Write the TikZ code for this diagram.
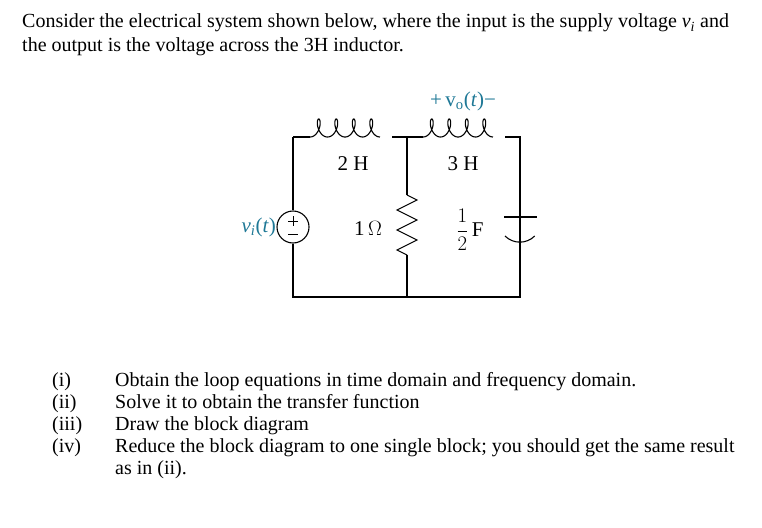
\documentclass[tikz,border=0pt]{standalone}
\usepackage{fontspec}
\setmainfont{Liberation Serif}
\begin{document}
\begin{tikzpicture}[x=1pt,y=-1pt,
  txt/.style={anchor=base west,inner sep=0pt,font=\fontsize{20}{24}\selectfont},
  lbl/.style={inner sep=0pt,font=\fontsize{21}{24}\selectfont},
  blu/.style={text={rgb,255:red,30;green,120;blue,150}},
  w/.style={line width=1.1pt}]
\useasboundingbox (0,0) rectangle (762,527);
\node[txt] (l1) at (22,28) {Consider the electrical system shown below, where the input is the supply voltage \textit{v\textsubscript{i}} and};
\node[txt] (l2) at (22,52) {the output is the voltage across the 3H inductor.};
% list
\node[txt] (n1) at (52,386) {(i)};
\node[txt] (n2) at (52,408) {(ii)};
\node[txt] (n3) at (52,430) {(iii)};
\node[txt] (n4) at (52,452) {(iv)};
\node[txt] (t1) at (115,386) {Obtain the loop equations in time domain and frequency domain.};
\node[txt] (t2) at (115,408) {Solve it to obtain the transfer function};
\node[txt] (t3) at (115,430) {Draw the block diagram};
\node[txt] (t4) at (115,452) {Reduce the block diagram to one single block; you should get the same result};
\node[txt] (t5) at (115,474) {as in (ii).};
% circuit
\coordinate (TL) at (293,137); \coordinate (TM) at (407,137); \coordinate (TR) at (520,137);
\coordinate (BL) at (293,297); \coordinate (BM) at (407,297); \coordinate (BR) at (520,297);
\node[draw,circle,w,minimum size=32pt,inner sep=0pt] (src) at (293,227) {};
\draw[line width=0.9pt] (288,221) -- (298,221) (293,216) -- (293,226);
\draw[line width=0.9pt] (288,234) -- (298,234);
\draw[w] (TL) -- (src.north);
\draw[w] (src.south) -- (BL) -- (BR) -- (TR) -- (505,137);
\draw[w] (BM) -- (407,255);
\draw[w] (407,195) -- (TM);
\draw[w] (TL) -- (310,137);
\draw[w] (392,137) -- (423,137);
% coils
\foreach \xo in {310,423}{
 \draw[w,smooth,samples=200,domain=0:25.133] plot ({\xo+(\x/6.283)*17.5+5*sin(\x r)},{137-9*(1-cos(\x r))});
}
% resistor
\draw[w] (407,195) -- (417,200) -- (397,210) -- (417,220) -- (397,230) -- (417,240) -- (397,250) -- (407,255);
% capacitor
\draw[w] (520,137) -- (520,217);
\draw[w] (504,217) -- (537,217);
\draw[w] (505,236) arc[start angle=135,end angle=45,radius=21];
\draw[w] (520,230) -- (BR);
% labels
\node[lbl] (L1) at (353,164) {2 H};
\node[lbl] (L2) at (463,164) {3 H};
\node[lbl] (R) at (368,228) {1\,$\Omega$};
\node[lbl] (C) at (470,230) {$\displaystyle\frac{1}{2}$\,F};
\node[lbl,blu,anchor=east] (vi) at (276,227) {\textit{v\textsubscript{i}}(\textit{t})};
\node[lbl,blu] (vo) at (463,101) {+\,v\textsubscript{o}(\textit{t})\textminus};
\end{tikzpicture}
\end{document}
